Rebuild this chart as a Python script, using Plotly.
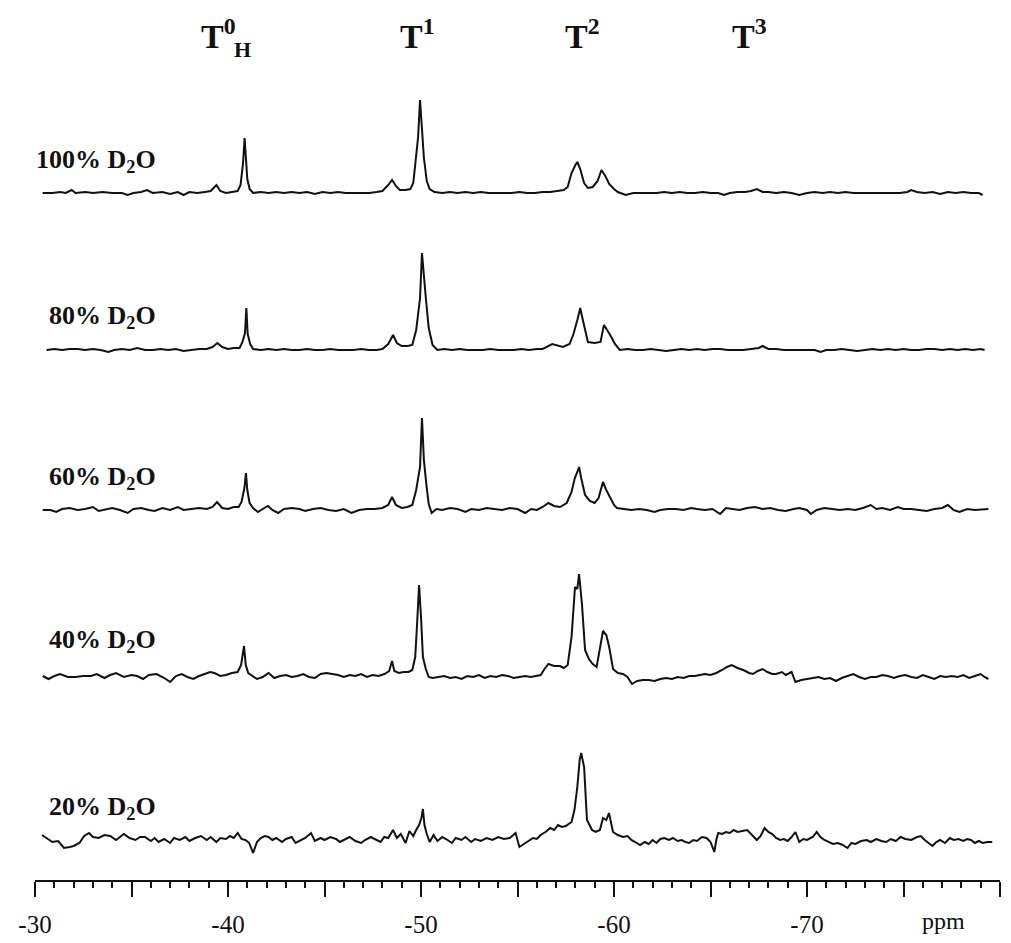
import plotly.graph_objects as go

# ---------------- data ----------------
# chemical shift (ppm) / intensity (a.u., above each trace's own baseline)
spec_100 = [(-30.4,0),(-30.9,0),(-31.3,1),(-31.6,0),(-31.9,3),(-32.1,0),(-32.6,1),(-33.0,0),(-33.5,1),(-34.0,0),
            (-34.5,0),(-34.8,-2),(-35.1,0),(-35.5,1),(-35.8,3),(-36.1,0),(-36.6,1),(-37.0,-1),(-37.4,1),(-37.7,-2),
            (-38.0,1),(-38.4,0),(-38.8,1),(-39.1,2),(-39.4,8),(-39.6,2),(-39.9,0),(-40.2,1),(-40.5,2),(-40.65,8),
            (-40.78,30),(-40.86,55),(-40.93,38),(-41.0,14),(-41.12,4),(-41.3,0),(-41.7,1),(-42.1,0),(-42.5,1),(-42.9,0),
            (-43.3,1),(-43.7,0),(-44.1,1),(-44.5,-1),(-44.9,1),(-45.3,0),(-45.7,1),(-46.1,0),(-46.5,0),(-46.9,0),
            (-47.3,0),(-47.7,1),(-48.0,2),(-48.3,8),(-48.5,13),(-48.7,7),(-48.9,3),(-49.2,3),(-49.45,4),(-49.6,10),
            (-49.75,40),(-49.85,56),(-49.95,93),(-50.05,60),(-50.15,35),(-50.3,12),(-50.45,4),(-50.7,1),(-51.1,0),(-51.5,1),
            (-51.9,0),(-52.3,1),(-52.7,0),(-53.1,1),(-53.5,0),(-53.9,0),(-54.3,0),(-54.7,0),(-55.1,1),(-55.5,0),
            (-55.9,0),(-56.3,1),(-56.7,1),(-57.1,2),(-57.4,3),(-57.6,6),(-57.8,20),(-58.0,28),(-58.1,31),(-58.25,24),
            (-58.45,10),(-58.65,5),(-58.9,6),(-59.15,12),(-59.35,23),(-59.55,17),(-59.75,9),(-60.0,4),(-60.2,1),(-60.6,-2),
            (-61.0,0),(-61.4,0),(-61.8,0),(-62.2,0),(-62.6,1),(-63.0,0),(-63.4,1),(-63.8,0),(-64.2,0),(-64.6,1),
            (-65.0,0),(-65.4,0),(-65.7,-2),(-66.0,0),(-66.4,1),(-66.8,1),(-67.1,2),(-67.4,4),(-67.7,1),(-68.0,1),
            (-68.4,0),(-68.8,1),(-69.2,0),(-69.6,-2),(-70.0,0),(-70.4,1),(-70.8,0),(-71.2,1),(-71.6,0),(-72.0,1),
            (-72.4,0),(-72.8,0),(-73.2,0),(-73.6,0),(-74.0,0),(-74.4,0),(-74.8,0),(-75.2,1),(-75.4,3),(-75.7,1),
            (-76.1,0),(-76.5,1),(-76.9,-1),(-77.3,1),(-77.7,0),(-78.1,1),(-78.5,0),(-78.9,0),(-79.1,-2)]

spec_80 = [(-30.6,0),(-31.0,1),(-31.4,0),(-31.8,1),(-32.2,1),(-32.6,0),(-33.0,1),(-33.4,0),(-33.8,-2),(-34.1,0),
           (-34.5,1),(-34.9,0),(-35.3,2),(-35.7,0),(-36.1,0),(-36.5,1),(-36.9,0),(-37.3,1),(-37.7,-1),(-38.1,0),
           (-38.5,1),(-38.9,1),(-39.2,3),(-39.45,7),(-39.7,3),(-40.0,1),(-40.3,2),(-40.6,2),(-40.75,8),(-40.88,17),
           (-40.95,42),(-41.02,16),(-41.15,6),(-41.3,1),(-41.7,0),(-42.1,1),(-42.5,0),(-42.9,1),(-43.3,0),(-43.7,0),
           (-44.1,1),(-44.5,0),(-44.9,0),(-45.3,1),(-45.7,0),(-46.1,0),(-46.5,0),(-46.9,1),(-47.3,0),(-47.7,0),
           (-48.0,1),(-48.3,6),(-48.55,15),(-48.75,7),(-49.0,4),(-49.3,4),(-49.55,5),(-49.75,20),(-49.95,52),(-50.05,97),
           (-50.15,70),(-50.25,52),(-50.4,22),(-50.6,5),(-50.85,0),(-51.2,1),(-51.6,0),(-52.0,1),(-52.4,0),(-52.8,0),
           (-53.2,0),(-53.6,1),(-54.0,0),(-54.4,0),(-54.8,0),(-55.2,1),(-55.6,0),(-56.0,1),(-56.3,1),(-56.8,6),
           (-57.1,4),(-57.35,3),(-57.7,6),(-57.9,16),(-58.1,30),(-58.25,42),(-58.35,33),(-58.5,20),(-58.65,8),(-59.0,7),
           (-59.3,8),(-59.48,25),(-59.65,20),(-59.8,15),(-60.05,6),(-60.3,0),(-60.7,1),(-61.1,0),(-61.5,0),(-61.9,1),
           (-62.3,0),(-62.7,-1),(-63.1,0),(-63.5,1),(-63.9,0),(-64.3,1),(-64.7,0),(-65.1,1),(-65.5,1),(-65.9,0),
           (-66.3,0),(-66.7,0),(-67.1,1),(-67.5,2),(-67.7,4),(-68.0,1),(-68.4,1),(-68.8,0),(-69.2,0),(-69.6,0),
           (-70.0,0),(-70.4,0),(-70.7,-2),(-71.0,0),(-71.4,0),(-71.8,1),(-72.2,0),(-72.6,-1),(-73.0,0),(-73.4,1),
           (-73.8,0),(-74.2,1),(-74.6,0),(-75.0,1),(-75.4,0),(-75.8,0),(-76.2,1),(-76.6,1),(-77.0,0),(-77.4,1),
           (-77.8,0),(-78.2,1),(-78.6,0),(-79.0,1),(-79.2,0)]

spec_60 = [(-30.4,0),(-30.8,0),(-31.1,-2),(-31.4,1),(-31.8,2),(-32.2,0),(-32.6,1),(-33.0,3),(-33.3,-1),(-33.7,1),
           (-34.0,2),(-34.4,0),(-34.8,-3),(-35.1,1),(-35.5,2),(-35.9,0),(-36.2,-1),(-36.6,2),(-37.0,0),(-37.4,3),
           (-37.7,0),(-38.1,1),(-38.5,2),(-38.9,1),(-39.2,3),(-39.43,8),(-39.7,2),(-40.0,1),(-40.3,3),(-40.55,3),
           (-40.7,8),(-40.85,22),(-40.93,37),(-41.0,20),(-41.12,7),(-41.3,2),(-41.55,-2),(-41.8,1),(-42.07,4),(-42.3,0),
           (-42.6,-3),(-42.9,1),(-43.3,2),(-43.7,1),(-44.0,-1),(-44.4,1),(-44.8,2),(-45.2,0),(-45.6,-1),(-46.0,1),
           (-46.4,-3),(-46.8,0),(-47.2,1),(-47.6,1),(-48.0,2),(-48.3,5),(-48.5,13),(-48.7,5),(-49.0,2),(-49.3,3),
           (-49.55,5),(-49.75,20),(-49.95,43),(-50.05,92),(-50.15,50),(-50.28,25),(-50.4,6),(-50.55,-3),(-50.8,1),(-51.1,0),
           (-51.5,2),(-51.9,1),(-52.3,-2),(-52.6,1),(-53.0,0),(-53.4,2),(-53.8,1),(-54.2,0),(-54.6,2),(-55.0,1),
           (-55.4,-3),(-55.7,1),(-56.0,0),(-56.3,3),(-56.6,7),(-56.9,4),(-57.2,3),(-57.55,7),(-57.8,18),(-57.97,32),
           (-58.1,38),(-58.19,43),(-58.3,32),(-58.5,15),(-58.75,9),(-59.0,7),(-59.2,12),(-59.43,28),(-59.6,20),(-59.8,12),
           (-60.0,5),(-60.15,2),(-60.5,1),(-60.9,0),(-61.3,1),(-61.7,0),(-62.1,-2),(-62.4,0),(-62.8,1),(-63.2,1),
           (-63.6,0),(-64.0,2),(-64.3,1),(-64.7,0),(-65.1,1),(-65.5,-4),(-65.8,2),(-66.1,1),(-66.5,0),(-66.9,2),
           (-67.3,3),(-67.7,1),(-68.1,2),(-68.5,0),(-68.9,-1),(-69.3,1),(-69.6,2),(-70.0,0),(-70.2,-4),(-70.5,0),
           (-70.9,2),(-71.3,1),(-71.7,0),(-72.1,1),(-72.5,0),(-72.9,2),(-73.3,5),(-73.6,1),(-73.9,2),(-74.3,0),
           (-74.7,3),(-75.0,1),(-75.4,1),(-75.8,0),(-76.2,-1),(-76.6,1),(-77.0,2),(-77.3,5),(-77.6,0),(-77.9,-2),
           (-78.3,1),(-78.7,0),(-79.1,1),(-79.4,1)]

spec_40 = [(-30.4,1),(-30.7,-2),(-31.0,1),(-31.3,3),(-31.7,0),(-32.1,0),(-32.5,1),(-32.9,1),(-33.2,3),(-33.6,-1),
           (-33.9,2),(-34.2,4),(-34.6,0),(-35.0,2),(-35.3,1),(-35.6,-2),(-35.9,2),(-36.3,3),(-36.7,-1),(-37.0,-5),
           (-37.3,1),(-37.6,3),(-37.9,0),(-38.2,-2),(-38.5,1),(-38.8,3),(-39.07,5),(-39.3,4),(-39.6,1),(-39.9,2),
           (-40.2,4),(-40.5,5),(-40.68,12),(-40.83,31),(-40.92,12),(-41.05,4),(-41.25,1),(-41.5,-2),(-41.8,0),(-42.1,4),
           (-42.4,-1),(-42.7,1),(-43.0,2),(-43.3,0),(-43.6,1),(-43.9,3),(-44.2,0),(-44.5,-1),(-44.8,3),(-45.1,4),
           (-45.4,3),(-45.7,2),(-46.0,0),(-46.3,2),(-46.6,1),(-46.9,3),(-47.2,0),(-47.5,2),(-47.8,1),(-48.1,3),
           (-48.35,6),(-48.5,16),(-48.62,6),(-48.85,4),(-49.1,5),(-49.35,5),(-49.55,7),(-49.7,20),(-49.8,54),(-49.9,92),
           (-50.0,60),(-50.1,20),(-50.25,8),(-50.4,0),(-50.6,-1),(-50.9,0),(-51.2,1),(-51.5,-1),(-51.8,0),(-52.1,-2),
           (-52.4,1),(-52.7,0),(-53.0,2),(-53.3,-1),(-53.6,1),(-53.9,0),(-54.2,2),(-54.5,1),(-54.8,-1),(-55.1,0),
           (-55.4,1),(-55.7,0),(-56.0,1),(-56.2,2),(-56.4,8),(-56.6,13),(-56.9,11),(-57.2,11),(-57.4,9),(-57.6,12),
           (-57.8,40),(-57.98,90),(-58.1,88),(-58.19,103),(-58.34,73),(-58.5,27),(-58.7,18),(-58.9,13),(-59.1,10),(-59.25,25),
           (-59.43,46),(-59.6,42),(-59.75,30),(-59.95,8),(-60.2,4),(-60.47,3),(-60.7,0),(-60.93,-7),(-61.2,-4),(-61.5,-3),
           (-61.8,-3),(-62.1,-4),(-62.4,-2),(-62.7,-1),(-63.0,-2),(-63.3,0),(-63.6,-1),(-63.9,1),(-64.2,1),(-64.45,2),
           (-64.7,3),(-65.0,2),(-65.3,4),(-65.6,7),(-65.85,10),(-66.1,12),(-66.4,9),(-66.7,7),(-67.0,4),(-67.2,3),
           (-67.45,6),(-67.7,8),(-67.95,5),(-68.2,3),(-68.4,3),(-68.7,5),(-68.9,2),(-69.2,5),(-69.4,-5),(-69.7,-3),
           (-70.0,-2),(-70.3,-1),(-70.6,0),(-70.9,-2),(-71.2,-1),(-71.5,-4),(-71.8,-1),(-72.1,1),(-72.4,3),(-72.7,0),
           (-73.0,-2),(-73.3,0),(-73.6,0),(-73.9,2),(-74.2,1),(-74.5,-1),(-74.8,1),(-75.1,2),(-75.4,0),(-75.7,-1),
           (-76.0,2),(-76.3,0),(-76.6,-2),(-76.9,1),(-77.2,0),(-77.5,1),(-77.8,0),(-78.1,2),(-78.4,-1),(-78.7,1),
           (-79.0,3),(-79.2,0),(-79.4,-2)]

spec_20 = [(-30.36,5),(-30.6,2),(-30.9,-2),(-31.2,-1),(-31.5,-8),(-31.8,-7),(-32.0,-6),(-32.3,-3),(-32.55,4),(-32.8,7),
           (-33.0,3),(-33.3,2),(-33.6,5),(-33.9,4),(-34.2,0),(-34.4,3),(-34.6,6),(-34.9,2),(-35.2,0),(-35.45,3),
           (-35.7,3),(-36.0,-1),(-36.2,2),(-36.4,-2),(-36.7,1),(-37.0,-3),(-37.2,2),(-37.5,0),(-37.8,3),(-38.0,-1),
           (-38.3,2),(-38.6,4),(-38.9,0),(-39.1,3),(-39.4,-2),(-39.6,2),(-39.9,1),(-40.1,4),(-40.3,2),(-40.5,7),
           (-40.7,1),(-40.9,0),(-41.1,-3),(-41.3,-13),(-41.5,-2),(-41.7,2),(-41.9,4),(-42.1,3),(-42.3,0),(-42.5,2),
           (-42.8,-2),(-43.0,1),(-43.3,3),(-43.5,-3),(-43.8,0),(-44.0,2),(-44.3,7),(-44.5,-1),(-44.8,2),(-45.0,0),
           (-45.3,3),(-45.6,1),(-45.8,-2),(-46.1,1),(-46.3,3),(-46.6,-1),(-46.9,-3),(-47.1,0),(-47.4,3),(-47.6,1),
           (-47.9,-2),(-48.1,3),(-48.3,2),(-48.55,10),(-48.75,2),(-48.95,6),(-49.2,-3),(-49.4,9),(-49.6,4),(-49.75,10),
           (-49.9,15),(-50.02,22),(-50.1,31),(-50.18,15),(-50.3,6),(-50.45,-2),(-50.65,5),(-50.85,-1),(-51.1,3),(-51.3,1),
           (-51.6,-3),(-51.8,2),(-52.1,0),(-52.3,3),(-52.6,-2),(-52.8,1),(-53.1,-1),(-53.4,2),(-53.7,0),(-54.0,3),
           (-54.3,1),(-54.6,2),(-54.9,7),(-55.1,-7),(-55.4,-3),(-55.6,-1),(-55.8,2),(-56.0,1),(-56.2,5),(-56.45,8),
           (-56.7,12),(-56.9,10),(-57.1,15),(-57.3,13),(-57.5,14),(-57.8,18),(-57.95,30),(-58.1,53),(-58.22,80),(-58.3,87),
           (-58.45,73),(-58.6,20),(-58.86,10),(-59.05,8),(-59.27,10),(-59.43,22),(-59.6,20),(-59.74,27),(-59.95,8),(-60.2,5),
           (-60.46,3),(-60.7,4),(-60.9,0),(-61.1,-2),(-61.35,-5),(-61.6,-2),(-61.8,-4),(-62.0,0),(-62.2,-3),(-62.4,1),
           (-62.6,2),(-62.85,0),(-63.05,2),(-63.3,-1),(-63.5,0),(-63.7,-2),(-63.9,-3),(-64.1,0),(-64.3,-1),(-64.55,3),
           (-64.8,2),(-65.0,-2),(-65.2,-12),(-65.3,0),(-65.4,7),(-65.6,6),(-65.8,8),(-66.0,7),(-66.2,10),(-66.4,8),
           (-66.65,9),(-66.9,10),(-67.1,6),(-67.4,0),(-67.6,4),(-67.8,12),(-68.0,8),(-68.2,6),(-68.4,2),(-68.6,0),
           (-68.8,1),(-69.0,-1),(-69.2,3),(-69.4,8),(-69.6,-2),(-69.8,1),(-70.0,0),(-70.3,3),(-70.5,8),(-70.7,3),
           (-70.9,0),(-71.1,-2),(-71.35,-4),(-71.6,-3),(-71.85,-5),(-72.1,-8),(-72.3,-3),(-72.5,-4),(-72.8,-1),(-73.1,0),
           (-73.3,-2),(-73.6,1),(-73.85,-1),(-74.1,-2),(-74.35,1),(-74.6,-1),(-74.85,3),(-75.1,1),(-75.4,0),(-75.7,3),
           (-75.9,4),(-76.1,0),(-76.3,-3),(-76.5,-6),(-76.7,-2),(-76.9,0),(-77.15,-3),(-77.4,2),(-77.6,0),(-77.85,1),
           (-78.1,-1),(-78.3,1),(-78.5,0),(-78.7,-3),(-78.9,-1),(-79.1,-3),(-79.35,-2),(-79.6,-2)]

sample_labels = ["100% D<sub>2</sub>O", "80% D<sub>2</sub>O", "60% D<sub>2</sub>O",
                 "40% D<sub>2</sub>O", "20% D<sub>2</sub>O"]
spectra = [spec_100, spec_80, spec_60, spec_40, spec_20]

major_ticks = [-30, -35, -40, -45, -50, -55, -60, -65, -70, -75, -80]
major_labels = ["-30", "", "-40", "", "-50", "", "-60", "", "-70", "", ""]

# ---------------- layout helpers ----------------
W, H = 1011, 943
ML, MR, MT, MB = 35, 11, 0, 63
PW = W - ML - MR
PH = H - MT - MB
X0, X1 = -30.0, -80.0


def px_to_ppm(px):
    return X0 + (X1 - X0) * (px - ML) / PW


def py_to_y(py):
    return PH - (py - MT)


def px_to_paper(px):
    return (px - ML) / PW


def py_to_paper(py):
    return (PH - (py - MT)) / PH


baseline_px = [193, 350, 510, 677, 840]
label_center_px = [161, 317, 478, 641, 808]

fig = go.Figure()
for spec, bpx in zip(spectra, baseline_px):
    off = py_to_y(bpx)
    fig.add_trace(go.Scatter(
        x=[p for p, _ in spec],
        y=[off + v for _, v in spec],
        mode="lines",
        line=dict(color="#111111", width=2),
        hoverinfo="skip",
        showlegend=False,
    ))

serif = "Liberation Serif"
ann = []
for lab, cy in zip(sample_labels, label_center_px):
    ann.append(dict(x=px_to_ppm(158), y=py_to_y(cy), xref="x", yref="y",
                    text="<b>" + lab + "</b>", showarrow=False,
                    xanchor="right", yanchor="middle",
                    font=dict(family=serif, size=26, color="#111111")))

# peak group labels
ann.append(dict(x=px_to_ppm(199), y=py_to_y(34), xref="x", yref="y",
                text="<b>T<sup>0</sup></b>", showarrow=False, xanchor="left", yanchor="middle",
                font=dict(family=serif, size=34, color="#111111")))
ann.append(dict(x=px_to_ppm(232), y=py_to_y(49), xref="x", yref="y",
                text="<b>H</b>", showarrow=False, xanchor="left", yanchor="middle",
                font=dict(family=serif, size=22, color="#111111")))
for txt, cx in [("T<sup>1</sup>", 398), ("T<sup>2</sup>", 563), ("T<sup>3</sup>", 730)]:
    ann.append(dict(x=px_to_ppm(cx), y=py_to_y(34), xref="x", yref="y",
                    text="<b>" + txt + "</b>", showarrow=False, xanchor="left", yanchor="middle",
                    font=dict(family=serif, size=34, color="#111111")))
# axis unit (below the plot area, so paper-referenced)
ann.append(dict(x=px_to_paper(943), y=py_to_paper(921), xref="paper", yref="paper",
                text="ppm", showarrow=False, xanchor="center", yanchor="middle",
                font=dict(family=serif, size=24, color="#111111")))

fig.update_layout(
    width=W, height=H,
    margin=dict(l=ML, r=MR, t=MT, b=MB, pad=0),
    paper_bgcolor="white", plot_bgcolor="white",
    showlegend=False,
    annotations=ann,
    xaxis=dict(
        range=[X0, X1],
        showgrid=False, zeroline=False,
        showline=True, linecolor="#111111", linewidth=2,
        ticks="outside", ticklen=15, tickwidth=2, tickcolor="#111111",
        tickmode="array", tickvals=major_ticks, ticktext=major_labels,
        ticklabelstandoff=6,
        tickfont=dict(family=serif, size=25, color="#111111"),
        minor=dict(tickmode="linear", tick0=-30, dtick=1, ticks="outside",
                   ticklen=6, tickwidth=1.5, tickcolor="#111111", showgrid=False),
    ),
    yaxis=dict(range=[0, PH], visible=False, showgrid=False, zeroline=False),
)

fig.write_html("out.html")
